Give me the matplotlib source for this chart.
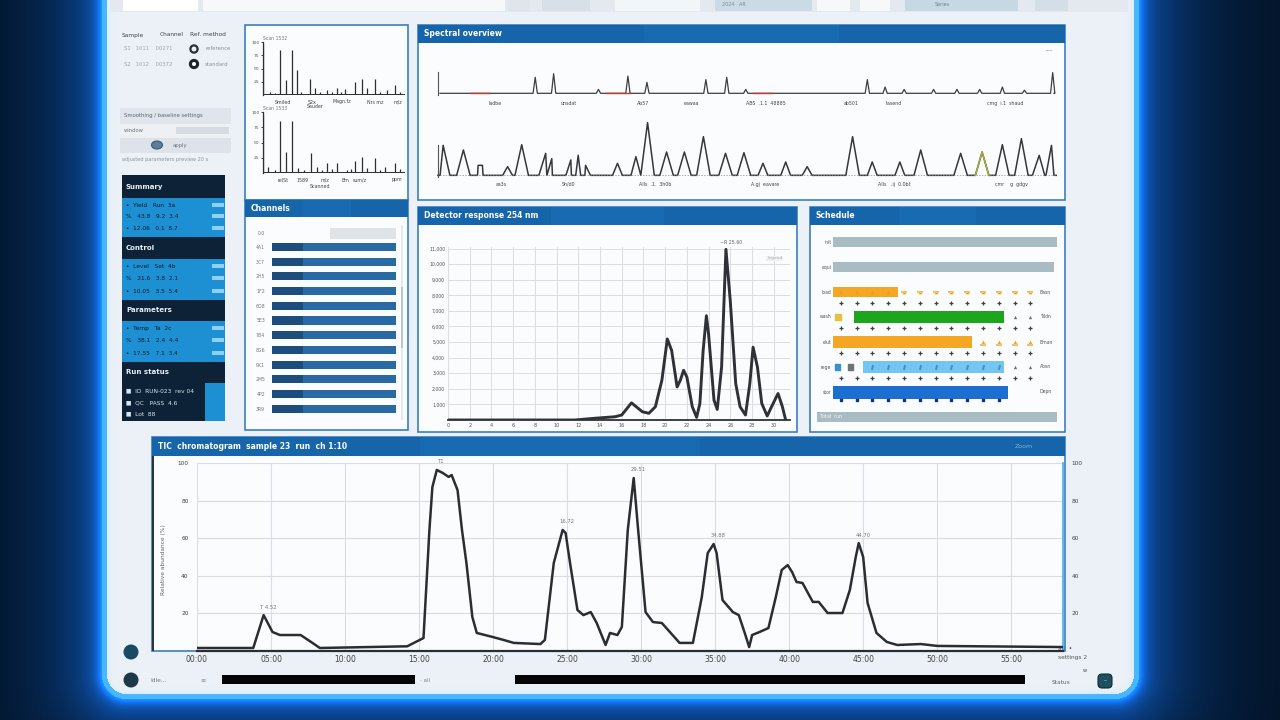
import numpy as np
import matplotlib
matplotlib.use("Agg")
import matplotlib.pyplot as plt
from matplotlib.patches import Rectangle, FancyBboxPatch, Circle, Ellipse

W, H = 1280, 720

# ---------------------------------------------------------------- data
# total ion chromatogram (bottom panel): time in minutes, relative abundance in %
tic_time = [0.0, 3.8, 4.5, 5.1, 5.6, 7.0, 7.8, 8.3, 14.2, 14.9, 15.3, 15.7, 15.9, 16.2,
            16.6, 17.0, 17.2, 17.6, 17.9, 18.2, 18.6, 18.9, 20.0, 20.7, 21.4, 23.2, 23.5,
            24.1, 24.7, 24.9, 25.2, 25.7, 26.1, 26.6, 27.0, 27.6, 27.9, 28.4, 28.7, 29.1,
            29.5, 29.8, 30.3, 30.8, 31.4, 32.0, 32.6, 33.5, 34.1, 34.5, 34.9, 35.1, 35.5,
            36.2, 36.6, 37.0, 37.3, 37.5, 38.0, 38.6, 39.1, 39.5, 39.9, 40.2, 40.5, 40.9,
            41.6, 42.0, 42.6, 43.6, 44.1, 44.5, 44.7, 45.0, 45.3, 45.9, 46.6, 47.3, 48.9,
            50.0, 58.5]
tic_abund = [1.6, 1.6, 19.1, 10.1, 8.5, 8.5, 4.3, 1.6, 2.5, 5.3, 6.9, 64.4, 87.2, 96.3,
             94.7, 92.6, 93.6, 85.6, 64.4, 46.8, 18.1, 9.6, 7.4, 5.9, 4.3, 3.7, 5.9,
             46.8, 64.4, 62.8, 46.8, 21.8, 19.1, 20.7, 14.9, 3.2, 9.6, 8.5, 12.8, 64.4,
             92.0, 64.4, 20.7, 15.4, 14.9, 9.6, 4.3, 4.3, 28.7, 52.1, 56.9, 52.1, 27.1,
             20.7, 19.1, 9.6, 2.1, 8.5, 10.1, 12.2, 28.7, 43.1, 45.7, 42.0, 36.7, 36.2,
             26.1, 26.1, 20.2, 20.2, 32.4, 50.0, 57.4, 50.0, 25.5, 9.6, 4.8, 3.2, 3.7,
             2.7, 2.1]
tic_ticks = [0, 5, 10, 15, 20, 25, 30, 35, 40, 45, 50, 55]
tic_tick_labels = ["00:00", "05:00", "10:00", "15:00", "20:00", "25:00",
                   "30:00", "35:00", "40:00", "45:00", "50:00", "55:00"]
tic_peak_time = [4.5, 16.2, 24.7, 29.5, 34.9, 44.7]
tic_peak_abund = [19.1, 96.3, 64.4, 92.0, 56.9, 57.4]
tic_peak_names = ["T 4.52", "T1", "16.72", "29.51", "34.88", "44.70"]

# UV detector trace (middle panel): time in minutes, counts
uv_time = [0.0, 11.7, 13.5, 15.4, 16.0, 16.9, 17.9, 18.5, 19.1, 19.7, 20.2, 20.6, 21.1,
           21.4, 21.7, 22.0, 22.5, 22.9, 23.2, 23.5, 23.8, 24.0, 24.5, 24.8, 25.2, 25.6,
           26.0, 26.5, 26.9, 27.4, 27.8, 28.1, 28.5, 28.9, 29.4, 29.8, 30.4, 30.8, 31.1]
uv_counts = [0, 0, 110, 210, 320, 1100, 530, 430, 850, 2550, 5200, 4460, 2120, 2550,
             3190, 2760, 850, 170, 1060, 4460, 6690, 5520, 1270, 680, 3400, 10950, 7640,
             2340, 850, 320, 2340, 4670, 3400, 1060, 260, 850, 1700, 850, 0]

# stick spectra (small panel): m/z and relative intensity
ms1_mz = [51, 72, 88, 104, 122, 141, 157, 170, 199, 215, 232, 252, 268, 284, 298, 310,
          342, 363, 379, 405, 420, 442, 468, 485]
ms1_int = [97, 6, 4, 85, 28, 85, 47, 5, 31, 14, 6, 9, 5, 14, 6, 11,
           25, 31, 14, 31, 5, 9, 19, 5]
ms2_mz = [51, 67, 88, 104, 123, 141, 162, 180, 201, 220, 238, 252, 270, 285, 315, 330,
          342, 363, 379, 406, 420, 437, 468, 485]
ms2_int = [97, 10, 5, 85, 35, 85, 8, 5, 33, 10, 5, 16, 6, 16, 5, 6,
           19, 27, 8, 24, 5, 10, 16, 6]

# overview traces (top panel): peak positions (% of run) and heights
ovw_a_pos = [15.5, 18.5, 25.8, 30.6, 33.7, 43.3, 46.7, 49.8, 69.6, 72.5, 75.6, 80.4,
             84.2, 87.9, 91.6, 95.2, 99.8]
ovw_a_height = [41, 50, 10, 44, 28, 35, 41, 10, 35, 16, 10, 10, 10, 10, 16, 8, 53]
ovw_a_flagged = [(5, 8), (27, 31), (51, 54)]
ovw_b_pos = [0.5, 3.8, 6.2, 6.9, 11.0, 13.3, 17.2, 18.2, 21.3, 22.5, 23.7, 28.9, 31.9,
             33.8, 36.9, 39.8, 42.9, 46.5, 49.5, 52.6, 56.3, 59.8, 67.2, 70.4, 74.9,
             78.3, 84.8, 88.3, 91.6, 94.7, 97.6, 99.6]
ovw_b_height = [47, 40, 17, 17, 15, 48, 35, 27, 25, 32, 17, 20, 30, 81, 37, 37, 60, 35,
                36, 20, 22, 15, 60, 22, 22, 40, 35, 37, 48, 57, 32, 47]
ovw_b_highlight = 88.3

# channel levels (bar list panel)
channel_names = ["4A1", "3C7", "2H5", "1F2", "6D8", "5E3", "7B4", "8G6", "9K1", "2M5",
                 "4P2", "3R9"]
channel_levels = [99, 99, 99, 99, 99, 99, 99, 99, 99, 99, 99, 99]

# run schedule (right panel): start / end in hours
task_names = ["Init", "Equil", "Load", "Wash", "Elute", "Regen", "Store", "Total"]
task_start = [0.0, 0.0, 0.0, 1.3, 0.0, 1.9, 0.0, -1.0]
task_end = [14.2, 14.0, 4.1, 10.8, 8.8, 10.8, 11.1, 14.2]
task_colors = ["#a9bcc4", "#a9bcc4", "#f5a623", "#1ea51e", "#f5a623", "#74c6f2",
               "#1c6fd0", "#a9bcc4"]
task_tags = ["", "", "Basn", "Tildn", "Bman", "Absn", "Depn", ""]
checkpoints = [0.5, 1.5, 2.5, 3.5, 4.5, 5.5, 6.5, 7.5, 8.5, 9.5, 10.5, 11.5, 12.5]

# ---------------------------------------------------------------- helpers
fig = plt.figure(figsize=(12.8, 7.2), dpi=100)
plt.rcParams["font.family"] = ["DejaVu Sans"]

bg = fig.add_axes([0, 0, 1, 1])
bg.set_xlim(0, W)
bg.set_ylim(H, 0)
bg.axis("off")

# monitor glow around the screen
yy, xx = np.mgrid[0:H, 0:W] + 0.5
sx0, sx1, sy0, sy1, rad = 102, 1139, -60, 699, 24
cx, cy = (sx0 + sx1) / 2, (sy0 + sy1) / 2
hx, hy = (sx1 - sx0) / 2 - rad, (sy1 - sy0) / 2 - rad
qx = np.abs(xx - cx) - hx
qy = np.abs(yy - cy) - hy
dist = (np.hypot(np.maximum(qx, 0), np.maximum(qy, 0))
        + np.minimum(np.maximum(qx, qy), 0) - rad)
base = np.array([0.005, 0.05, 0.10])
glow_col = np.array([0.08, 0.45, 0.95])
dpos = np.maximum(dist, 0)
g = 0.6 * np.exp(-dpos / 5) + 0.38 * np.exp(-dpos / 35) + 0.25 * np.exp(-dpos / 110)
img = np.broadcast_to(base, (H, W, 3)) + g[..., None] * glow_col
rim = (dist > -5) & (dist <= 0)
img[rim] = [0.28, 0.72, 1.0]
inner = dist <= -5
tint = np.exp(-(np.maximum(-dist - 5, 0)) / 3)[..., None]
screen = np.array([0.925, 0.948, 0.965]) * (1 - 0.2 * tint) + np.array([0.6, 0.82, 1.0]) * 0.2 * tint
img[inner] = screen[inner]
img = np.clip(img, 0, 1)
bg.imshow(img, extent=(0, W, H, 0), aspect="auto", interpolation="bilinear", zorder=0)


def rect(x0, y0, x1, y1, fc, ec="none", lw=0.0, z=1, **kw):
    bg.add_patch(Rectangle((x0, y0), x1 - x0, y1 - y0, facecolor=fc, edgecolor=ec,
                           linewidth=lw, zorder=z, **kw))


def txt(x, y, s, size=4.5, color="#555555", z=5, **kw):
    bg.text(x, y, s, fontsize=size, color=color, zorder=z, va="center", **kw)


def panel(x0, y0, x1, y1, title=None, hh=18):
    rect(x0, y0, x1, y1, "#fbfcfd", ec="#3a7fc0", lw=1.2, z=2)
    if title is not None:
        rect(x0, y0, x1, y0 + hh, "#1664a9", z=3)
        rect(x0 + (x1 - x0) * 0.35, y0, x0 + (x1 - x0) * 0.65, y0 + hh, "#1a70b8", z=3, alpha=0.6)
        txt(x0 + 6, y0 + hh / 2, title, size=5.5, color="white", weight="bold", z=4)


def px_axes(x0, y0, x1, y1):
    ax = fig.add_axes([x0 / W, 1 - y1 / H, (x1 - x0) / W, (y1 - y0) / H])
    ax.set_facecolor("none")
    return ax


# ---------------------------------------------------------------- top toolbar
rect(110, 0, 1128, 12, "#e3e9ef", z=1)
for a, b, c in [(123, 198, "#ffffff"), (203, 505, "#f6f8fa"), (508, 530, "#dfe5ea"),
                (542, 590, "#d7e0e7"), (615, 700, "#f3f6f8"), (715, 812, "#cbdbe6"),
                (817, 850, "#f6f8fa"), (860, 890, "#f6f8fa"), (905, 1018, "#c6d8e4"),
                (1035, 1068, "#d3dee6")]:
    rect(a, 0, b, 11, c, z=1.5)
txt(722, 4, "2024   AR", size=3.5, color="#7a8a96")
txt(935, 4, "Series", size=3.5, color="#6b7d8b")

# ---------------------------------------------------------------- left column
txt(122, 35, "Sample", size=4.2, color="#3d4650")
txt(160, 35, "Channel", size=4.2, color="#3d4650")
txt(190, 35, "Ref. method", size=4.2, color="#3d4650")
txt(124, 49, "S1   1011    00271", size=3.8, color="#9aa4ad")
txt(124, 64, "S2   1012    00372", size=3.8, color="#9aa4ad")
bg.add_patch(Circle((194, 49), 3.6, facecolor="none", edgecolor="#2a3036", lw=1.6, zorder=5))
bg.add_patch(Circle((194, 64), 3.6, facecolor="#ffffff", edgecolor="#1e2328", lw=2.2, zorder=5))
txt(205, 49, "reference", size=3.8, color="#8a949c")
txt(205, 64, "standard", size=3.8, color="#8a949c")

rect(120, 108, 231, 124, "#dfe5ea", z=1.5)
txt(124, 116, "Smoothing / baseline settings", size=3.8, color="#5a6570")
rect(120, 124, 231, 138, "#eef1f4", z=1.5)
rect(176, 127, 229, 134, "#d4dbe1", z=1.6)
txt(124, 131, "window", size=3.8, color="#6c7680")
rect(120, 138, 231, 153, "#dde3e8", z=1.5)
bg.add_patch(Ellipse((157, 145), 11, 8, facecolor="#5d7d9c", edgecolor="#3d5a78", lw=0.8, zorder=5))
txt(173, 145, "apply", size=3.8, color="#6c7680")
txt(122, 160, "adjusted parameters preview 20 s", size=3.6, color="#8a949c")

# summary / status blocks
blocks = [
    (175, 198, 237, "Summary", [" •  Yield   Run  3a", " %   43.8   9.2  3.4", " •  12.06   0.1  8.7"]),
    (237, 259, 300, "Control", [" •  Level   Set  4b", " %   21.6   3.8  2.1", " •  10.05   3.5  5.4"]),
    (300, 321, 362, "Parameters", [" •  Temp   Ta  2c", " %   38.1   2.4  4.4", " •  17.55   7.1  3.4"]),
]
for top, mid, bot, title, rows in blocks:
    rect(122, top, 225, mid, "#0d2236", z=2)
    txt(126, (top + mid) / 2, title, size=5, color="#e8f0f7", weight="bold", z=4)
    rect(122, mid, 225, bot, "#1d8fd3", z=2)
    n = len(rows)
    for i, r in enumerate(rows):
        yrow = mid + (bot - mid) * (i + 0.6) / (n + 0.3)
        txt(124, yrow, r, size=4.2, color="#07192b", z=4)
        rect(212, yrow - 2.5, 224, yrow + 1.5, "#8fd0f4", z=3)
rect(122, 362, 225, 421, "#1d8fd3", z=2)
rect(122, 362, 225, 383, "#0d2236", z=2.5)
txt(126, 372.5, "Run status", size=5, color="#e8f0f7", weight="bold", z=4)
rect(122, 383, 205, 421, "#0d2236", z=2.5)
for i, r in enumerate([" ■  ID  RUN-023  rev 04", " ■  QC   PASS  4.6", " ■  Lot  88"]):
    txt(124, 391 + i * 11.5, r, size=4.2, color="#d6e6f2", z=4)

# ---------------------------------------------------------------- small spectra panel
panel(245, 25, 408, 200)
for (y0, y1, mz, inten, lab) in [(42, 95, ms1_mz, ms1_int, "Scan 1532"),
                                 (112, 173, ms2_mz, ms2_int, "Scan 1533")]:
    ax = px_axes(263, y0, 405, y1)
    ax.vlines(mz, 0, inten, color="#2b2f33", lw=0.9)
    ax.axhline(0, color="#2b2f33", lw=1.4)
    ax.set_xlim(50, 500)
    ax.set_ylim(0, 100)
    for s in ["top", "right", "bottom"]:
        ax.spines[s].set_visible(False)
    ax.spines["left"].set_color("#2b2f33")
    ax.spines["left"].set_linewidth(0.9)
    ax.set_yticks([25, 50, 75, 100])
    ax.set_yticklabels(["25", "50", "75", "100"], fontsize=3.2, color="#555")
    ax.tick_params(axis="y", length=1.5, width=0.5, pad=1)
    ax.set_xticks([])
    ax.text(88, 104, lab, fontsize=3.3, color="#777", ha="center", transform=ax.transData)
for x, s in [(283, "Smiled"), (312, "52x"), (342, "Magn.fz"), (375, "Nrs mz"), (398, "m/z")]:
    txt(x, 102, s, size=3.4, color="#444", ha="center")
txt(315, 107, "Sauder", size=3.4, color="#444", ha="center")
for x, s in [(283, "relSt"), (303, "1589"), (325, "m/z"), (345, "Bm"), (360, "sum/z"), (397, "ppm")]:
    txt(x, 180, s, size=3.4, color="#444", ha="center")
txt(320, 187, "Scanned", size=3.4, color="#444", ha="center")

# ---------------------------------------------------------------- channel bars panel
panel(245, 200, 408, 430, title="Channels", hh=17)
ax = px_axes(272, 225, 397, 416)
ypos = np.arange(len(channel_levels))
ax.barh(ypos, channel_levels, height=0.55, color="#2a6aa4", zorder=2)
ax.barh(ypos, [min(v, 25) for v in channel_levels], height=0.55, color="#1d4d7d", zorder=3)
ax.barh([-0.95], [53], left=[46], height=0.75, color="#dfe4e9", zorder=2)
ax.set_xlim(0, 100)
ax.set_ylim(11.5, -1.5)
ax.set_yticks(list(ypos) + [-0.95])
ax.set_yticklabels(channel_names + ["0.0"], fontsize=3.3, color="#6d7780")
ax.tick_params(axis="y", length=0, pad=5)
ax.set_xticks([])
for s in ax.spines.values():
    s.set_visible(False)
rect(400.5, 287, 403, 348, "#b9c4cd", z=3)
rect(400.5, 225, 403, 420, "#e3e8ec", z=2.5)

# ---------------------------------------------------------------- overview panel (top right)
panel(418, 25, 1065, 200, title="Spectral overview", hh=18)
txt(1045, 50, "─ ─", size=3.5, color="#9aa")
# upper trace
ax = px_axes(437, 62, 1057, 98)
xa = [0.0]
ya = [0.0]
for p, h in zip(ovw_a_pos, ovw_a_height):
    xa += [p - 0.35, p, p + 0.35]
    ya += [0.0, h, 0.0]
xa.append(100.0)
ya.append(0.0)
ax.plot(xa, ya, color="#3a3f44", lw=0.9)
for a, b in ovw_a_flagged:
    ax.plot([a, b], [0.5, 0.5], color="#c0392b", lw=1.0)
ax.set_xlim(-0.5, 100.5)
ax.set_ylim(-12, 80)
ax.axis("off")
ax.plot([-0.3, -0.3], [-5, 55], color="#555", lw=0.8)
for x, s in [(9, "Iadbe"), (21, "unsdat"), (33, "Ab57"), (41, "eawaa"), (53, "ABS  .1.1  48885"),
             (67, "ab501"), (74, "tasend"), (92, "cmg  i.1  shaud")]:
    ax.text(x, -30, s, fontsize=3.4, color="#444", ha="center", transform=ax.transData, clip_on=False)
# lower trace
ax = px_axes(437, 110, 1057, 180)
xb = [0.0]
yb = [2.0]
for p, h in zip(ovw_b_pos, ovw_b_height):
    w = 1.1 if h > 30 else 0.8
    xb += [p - w, p, p + w]
    yb += [2.0, h, 2.0]
xb.append(100.0)
yb.append(2.0)
order = np.argsort(xb, kind="stable")
xb = np.array(xb)[order]
yb = np.array(yb)[order]
ax.plot(xb, yb, color="#33383d", lw=1.1)
hp = ovw_b_pos.index(ovw_b_highlight)
ax.plot([ovw_b_highlight - 1.1, ovw_b_highlight, ovw_b_highlight + 1.1],
        [2, ovw_b_height[hp], 2], color="#a4ad3a", lw=1.1)
ax.axhline(2.5, color="#888", lw=0.5, ls=(0, (2, 2)))
ax.set_xlim(-0.5, 100.5)
ax.set_ylim(-5, 100)
ax.axis("off")
ax.plot([-0.3, -0.3], [0, 48], color="#555", lw=0.8)
for x, s in [(10, "aa3s"), (21, "Sh/d0"), (35, "Alls  .1.  3h0b"), (53, "A.gj  eavare"),
             (74, "Alls   .ij  0.0bt"), (93, "cmr    g  gdgv")]:
    ax.text(x, -14, s, fontsize=3.4, color="#444", ha="center", transform=ax.transData, clip_on=False)

# ---------------------------------------------------------------- UV trace panel (middle)
panel(418, 207, 797, 432, title="Detector response 254 nm", hh=18)
ax = px_axes(448, 247, 790, 420)
ax.plot(uv_time, uv_counts, color="#2e3236", lw=2.1, solid_joinstyle="round", zorder=3)
ax.set_xlim(0, 31.5)
ax.set_ylim(0, 11100)
ax.set_xticks(np.arange(0, 32, 2))
ax.set_xticklabels([str(v) for v in range(0, 32, 2)], fontsize=3.5, color="#555")
ax.set_yticks(np.arange(1000, 11001, 1000))
ax.set_yticklabels([f"{v:,}" for v in range(1000, 11001, 1000)], fontsize=3.3, color="#555")
ax.grid(True, color="#d9dee3", lw=0.7)
ax.tick_params(length=0, pad=2)
for s in ["top", "right", "left"]:
    ax.spines[s].set_visible(False)
ax.spines["bottom"].set_color("#2e3236")
ax.spines["bottom"].set_linewidth(1.3)
pk = int(np.argmax(uv_counts))
ax.text(uv_time[pk] + 0.5, uv_counts[pk] + 350, f"~R {uv_time[pk]:.2f}", fontsize=3.4,
        color="#666", ha="center", clip_on=False)
ax.text(30.8, 10300, "legend", fontsize=3.2, color="#aaa", ha="right",
        bbox=dict(boxstyle="square,pad=0.2", fc="#eef1f4", ec="none"))

# ---------------------------------------------------------------- schedule panel (right)
panel(810, 207, 1065, 432, title="Schedule", hh=18)
ax = px_axes(815, 230, 1062, 430)
rows = np.arange(len(task_names))
heights = [0.42, 0.42, 0.38, 0.5, 0.48, 0.5, 0.52, 0.42]
ax.barh(rows, np.array(task_end) - np.array(task_start), left=task_start, height=heights,
        color=task_colors, zorder=2)
ax.set_xlim(-1.14, 14.5)
ax.set_ylim(7.52, -0.48)
ax.axis("off")
cp = np.array(checkpoints)
# checkpoints along the rows
ax.scatter(cp, np.full(cp.size, 2.0), marker="^", s=7, color="#e8a020", zorder=3, lw=0)
ax.scatter(cp[cp > 4.1], np.full((cp > 4.1).sum(), 2.0), marker="_", s=18, color="#f5c060", zorder=3)
ax.scatter(cp[cp > 8.8], np.full((cp > 8.8).sum(), 4.0), marker="^", s=7, color="#e8a020", zorder=3, lw=0)
ax.scatter(cp[cp > 8.8], np.full((cp > 8.8).sum(), 4.1), marker="_", s=18, color="#f5c060", zorder=3)
ax.scatter(cp[cp > 10.8], np.full((cp > 10.8).sum(), 3.0), marker="^", s=6, color="#6d747a", zorder=3, lw=0)
ax.scatter(cp[cp > 10.8], np.full((cp > 10.8).sum(), 5.0), marker="^", s=6, color="#6d747a", zorder=3, lw=0)
ax.scatter(cp[(cp > 1.9) & (cp < 10.8)], np.full(((cp > 1.9) & (cp < 10.8)).sum(), 5.0),
           marker="$i$", s=8, color="#4a90c0", zorder=3)
for rrow in [2.45, 3.45, 4.45, 5.45]:
    ax.scatter(cp, np.full(cp.size, rrow), marker="+", s=8, color="#3b4248", lw=0.9, zorder=3)
ax.scatter(cp[:11], np.full(11, 6.3), marker="s", s=3, color="#0f3a70", zorder=3)
ax.scatter([0.3], [3.0], marker="s", s=16, color="#e8c040", zorder=3)
ax.scatter([0.3, 1.1], [5.0, 5.0], marker="s", s=14, color=["#3a8fd0", "#6d747a"], zorder=3)
for r, name in enumerate(task_names[:-1]):
    ax.text(-0.1, r, name.lower()[:4], fontsize=3.3, color="#555", ha="right", va="center")
for r, tag in enumerate(task_tags):
    if tag:
        ax.text(13.1, r, tag, fontsize=3.3, color="#555", ha="left", va="center")
ax.text(-0.8, 7, "Total  run", fontsize=3.4, color="#f4f6f8", ha="left", va="center", zorder=4)

# ---------------------------------------------------------------- total ion chromatogram (bottom)
rect(152, 437, 1065, 651, "#fbfcfd", ec="#3a7fc0", lw=1.2, z=2)
rect(152, 437, 1065, 456, "#1664a9", z=3)
rect(420, 437, 700, 456, "#1a70b8", z=3, alpha=0.6)
txt(158, 446.5, "TIC  chromatogram  sample 23  run  ch 1:10", size=5.5, color="white", weight="bold", z=4)
txt(1015, 446.5, "Zoom", size=4.5, color="#7fb2dd", z=4)
rect(151.5, 456, 153.5, 651, "#2d3338", z=3)
ax = px_axes(197, 463, 1063, 651)
ax.plot(tic_time, tic_abund, color="#2a2e32", lw=1.8, solid_joinstyle="round", zorder=3)
ax.set_xlim(0, 58.5)
ax.set_ylim(0, 100)
ax.set_xticks(tic_ticks)
ax.set_xticklabels(tic_tick_labels, fontsize=5.5, color="#444")
ax.set_yticks([20, 40, 60, 80, 100])
ax.set_yticklabels(["20", "40", "60", "80", "100"], fontsize=4.2, color="#444")
ax.tick_params(axis="both", length=0, pad=3)
ax.tick_params(axis="y", labelright=True, pad=6)
ax.grid(True, color="#d7dde2", lw=0.8)
for s in ["top", "left"]:
    ax.spines[s].set_visible(False)
ax.spines["right"].set_color("#47a9e8")
ax.spines["right"].set_linewidth(1.2)
ax.spines["bottom"].set_color("#2a2e32")
ax.spines["bottom"].set_linewidth(1.6)
for t, a, name in zip(tic_peak_time, tic_peak_abund, tic_peak_names):
    ax.text(t + 0.3, a + 3.5, name, fontsize=3.8, color="#777", ha="center", clip_on=False)
txt(163, 560, "Relative abundance (%)", size=4.2, color="#666", rotation=90, ha="center")

# ---------------------------------------------------------------- bottom status bar
bg.add_patch(Circle((131, 652), 7.5, facecolor="#184a62", zorder=5))
bg.add_patch(Circle((131, 680), 7.5, facecolor="#1d3848", zorder=5))
txt(150, 680, "Idle...", size=4.2, color="#777")
txt(200, 680, "≡", size=4.5, color="#888")
rect(222, 675, 415, 684, "#050505", z=4)
txt(420, 681, "· all", size=4.0, color="#888")
rect(515, 675, 1025, 684, "#050505", z=4)
txt(1058, 648, "all  ∙", size=4.2, color="#555")
txt(1058, 657, "settings 2", size=4.2, color="#555")
txt(1083, 671, "w", size=3.6, color="#444")
txt(1052, 683, "Status", size=4.2, color="#666")
bg.add_patch(FancyBboxPatch((1098, 674), 14, 14, boxstyle="round,pad=0,rounding_size=4",
                            facecolor="#1f5060", edgecolor="#0e2a35", lw=0.8, zorder=5))
txt(1105, 681, "–", size=4.5, color="#d5e6ee", ha="center")

fig.savefig("out.png", dpi=100)
